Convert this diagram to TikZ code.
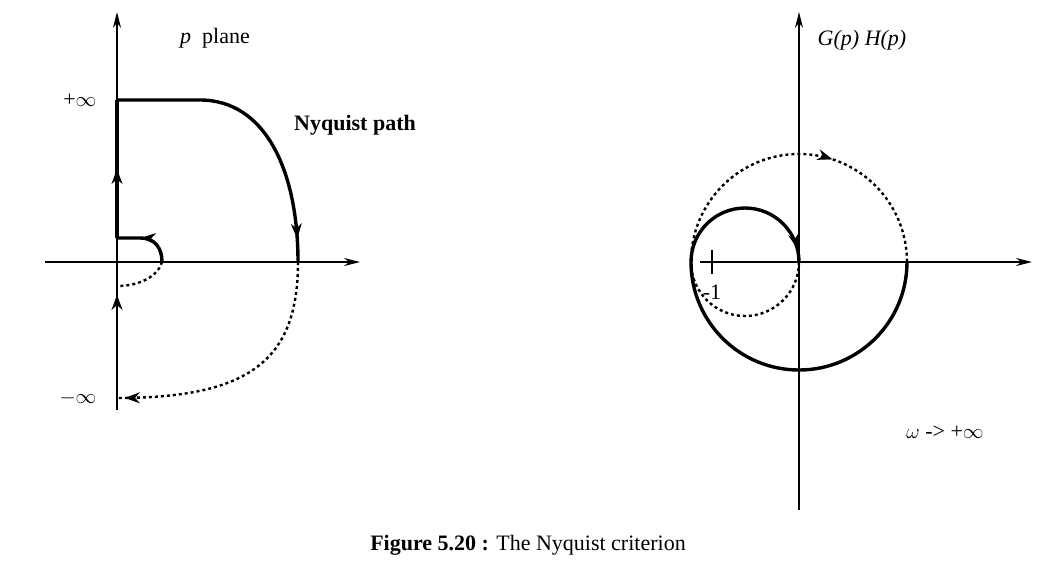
\documentclass[tikz,border=0pt]{standalone}
\usepackage{fontspec}
\setmainfont{Liberation Serif}
\usetikzlibrary{arrows.meta,decorations.markings}
\tikzset{
 ax/.style={line width=1.6pt,-{Stealth[length=16pt,width=8pt]}},
 sol/.style={line width=3.4pt},
 dot/.style={line width=2.4pt,dash pattern=on 3pt off 3pt},
 marr/.style={postaction={decorate},decoration={markings,mark=at position #1 with {\arrow[line width=1pt]{Stealth[length=15pt,width=11pt]}}}},
 lbl/.style={font=\fontsize{22}{26}\selectfont}
}
\begin{document}
\begin{tikzpicture}[x=1pt,y=-1pt]
\useasboundingbox (0,0) rectangle (1057,566);
% left plot
\draw[ax] (117,410) -- (117,12);
\draw[ax] (45,262) -- (360,262);
\coordinate (pinf) at (117,100);
\coordinate (minf) at (117,398);
\coordinate (A) at (298,262);
\coordinate (s1) at (117,238);
\coordinate (s2) at (162,262);
\coordinate (s3) at (117,286);
\draw[sol,marr=0.5] (s1) -- (pinf);
\draw[sol,marr=0.92] (pinf) -- (200,100) .. controls (265,100) and (298,170) .. (A);
\draw[sol,marr=0.6] (s2) .. controls (162,248) and (155,238) .. (140,238) -- (s1);
\draw[dot] (s2) .. controls (158,276) and (140,286) .. (s3);
\draw[dot,marr=0.92] (minf) -- (s3);
\draw[dot,marr=0.97] (A) .. controls (298,360) and (250,398) .. (minf);
\node[lbl,anchor=east] (pl) at (100,100) {+$\infty$};
\node[lbl,anchor=east] (ml) at (100,398) {$-\infty$};
\node[lbl] (pp) at (215,38) {\textit{p}\ \ plane};
\node[lbl,font=\fontsize{22}{26}\selectfont\bfseries] (np) at (355,125) {Nyquist path};
% right plot
\draw[ax] (799,510) -- (799,12);
\draw[ax] (700,262) -- (1032,262);
\draw[line width=1.6pt] (712,250) -- (712,274);
\node[lbl] (m1) at (712,292) {-1};
\draw[sol] (907,262) arc[start angle=0,end angle=180,radius=108];
\draw[sol,marr=0.92] (691,262) arc[start angle=180,end angle=360,radius=54];
\draw[dot] (799,262) arc[start angle=0,end angle=180,radius=54];
\draw[dot,marr=0.6] (691,262) arc[start angle=180,end angle=360,radius=108];
\node[lbl] (gh) at (862,40) {\textit{G(p) H(p)}};
\node[lbl] (wl) at (945,432) {$\omega$ -> +$\infty$};
\node[lbl] (cap) at (528,545) {\textbf{Figure 5.20 :} The Nyquist criterion};
\end{tikzpicture}
\end{document}
